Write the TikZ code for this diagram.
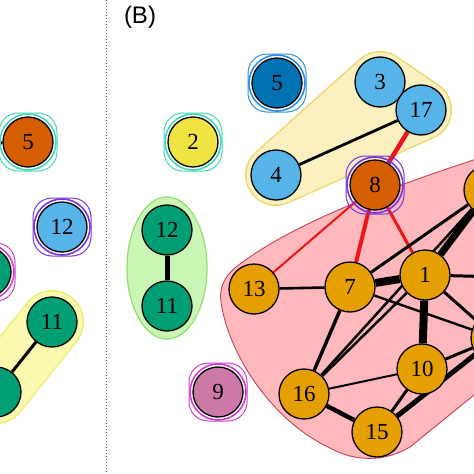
\documentclass[tikz,border=0pt]{standalone}
\usepackage{fontspec}
\setmainfont{Liberation Serif}
\newfontfamily\panelfont{Liberation Sans}
\pgfdeclarelayer{hulls}
\pgfdeclarelayer{links}
\pgfsetlayers{hulls,links,main}
\definecolor{cOr}{HTML}{E69F00}
\definecolor{cVer}{HTML}{D55E00}
\definecolor{cSky}{HTML}{56B4E9}
\definecolor{cBlue}{HTML}{0072B2}
\definecolor{cGreen}{HTML}{009E73}
\definecolor{cYel}{HTML}{F0E442}
\definecolor{cPur}{HTML}{CC79A7}
\definecolor{pinkFill}{HTML}{FFB8BC}
\definecolor{pinkLine}{HTML}{C84050}
\definecolor{yelFillB}{HTML}{FBF0C0}
\definecolor{yelLineB}{HTML}{EBD870}
\definecolor{yelFillA}{HTML}{FBF9B0}
\definecolor{yelLineA}{HTML}{EEEE70}
\definecolor{grnFill}{HTML}{CBF5B4}
\definecolor{grnLine}{HTML}{8EE070}
\definecolor{hTurq}{HTML}{45D8B5}
\definecolor{hPurp}{HTML}{7A35DC}
\definecolor{hMag}{HTML}{D040D0}
\definecolor{hBlue}{HTML}{2E8FE0}
\definecolor{redEdge}{HTML}{EE1515}
\newcommand\mkhalo[2]{%
  \draw[#2, line width=1.6pt] (#1) circle[radius=28pt];
  \draw[#2, line width=1pt, rounded corners=19pt] ([shift={(-29pt,-29pt)}]#1) rectangle ([shift={(29pt,29pt)}]#1);}
\begin{document}
\begin{tikzpicture}[x=1pt,y=-1pt,
  vtx/.style={circle, draw=black, line width=1.3pt, minimum size=50pt, inner sep=0pt, font=\fontsize{23}{23}\selectfont},
  blk/.style={draw=black, line width=#1},
  blk/.default=2.5pt,
  rd/.style={draw=redEdge, line width=#1},
  rd/.default=3pt]
\useasboundingbox (0,0) rectangle (474,474);
\clip (0,0) rectangle (474,474);

% ---------- nodes ----------
% panel A
\node[vtx, fill=cVer] (A5) at (28,142) {5};
\node[vtx, fill=cSky] (A12) at (62,227) {12};
\node[vtx, fill=cGreen] (Ag) at (-14,272) {};
\node[vtx, fill=cGreen] (A11) at (52,322) {11};
\node[vtx, fill=cGreen] (Abl) at (-4,392) {};
\coordinate (A0) at (-40,144);
% panel B
\node[vtx, fill=cYel] (B2) at (193,142) {2};
\node[vtx, fill=cBlue] (B5) at (277,83) {5};
\node[vtx, fill=cSky] (B3) at (380,82) {3};
\node[vtx, fill=cSky] (B17) at (421,110) {17};
\node[vtx, fill=cSky] (B4) at (276,175) {4};
\node[vtx, fill=cVer] (B8) at (375,185) {8};
\node[vtx, fill=cGreen] (B12) at (167,230) {12};
\node[vtx, fill=cGreen] (B11) at (167,306) {11};
\node[vtx, fill=cPur] (B9) at (218,392) {9};
\node[vtx, fill=cOr] (B13) at (254,289) {13};
\node[vtx, fill=cOr] (B7) at (350,287) {7};
\node[vtx, fill=cOr] (B1) at (425,275) {1};
\node[vtx, fill=cOr] (B10) at (422,369) {10};
\node[vtx, fill=cOr] (B16) at (304,394) {16};
\node[vtx, fill=cOr] (B15) at (377,432) {15};
\node[vtx, fill=cOr] (BR1) at (489,190) {};
\node[vtx, fill=cOr] (BR2) at (496,338) {};
\coordinate (BR3) at (540,278);

% panel label and separator
\node[font=\panelfont\fontsize{24}{24}\selectfont, inner sep=0pt] (lblB) at (140,17) {(B)};
\draw[black!60, line width=1pt, dash pattern=on 1pt off 2pt] (106,0) -- (106,474);

% ---------- hulls ----------
\begin{pgfonlayer}{hulls}
  % pink community
  \draw[fill=pinkFill, draw=pinkLine, line width=0.9pt]
    (495,153) .. controls (380,190) and (290,225) .. (236,267)
    .. controls (224,277) and (219,288) .. (221,302)
    .. controls (228,352) and (270,420) .. (330,448)
    .. controls (355,462) and (385,462) .. (410,447)
    -- (495,378) -- cycle;
  % yellow group in B
  \draw[draw=yelLineB, fill=yelLineB, line width=62pt, line join=round, line cap=round] (B3.center) -- (B17.center) -- (B4.center) -- cycle;
  \draw[draw=yelFillB, fill=yelFillB, line width=59pt, line join=round, line cap=round] (B3.center) -- (B17.center) -- (B4.center) -- cycle;
  % yellow group in A
  \draw[draw=yelLineA, line width=64pt, line cap=round] (A11.center) -- (Abl.center);
  \draw[draw=yelFillA, line width=61pt, line cap=round] (A11.center) -- (Abl.center);
  % green ellipse in B
  \draw[fill=grnFill, draw=grnLine, line width=1.2pt] (167,268) ellipse[x radius=40pt, y radius=71pt];
\end{pgfonlayer}

% ---------- edges and halos ----------
\begin{pgfonlayer}{links}
  \draw[blk=3pt] (A5) -- (A0);
  \draw[blk=3pt] (A11) -- (Abl);
  \draw[blk=2.8pt] (B4) -- (B17);
  \draw[blk=5pt] (B12) -- (B11);
  \draw[rd=4.5pt] (B17) -- (B8);
  \draw[rd=2pt] (B8) -- (B13);
  \draw[rd=4pt] (B8) -- (B7);
  \draw[rd=3pt] (B8) -- (B1);
  \draw[blk=2.6pt] (B13) -- (B7);
  \draw[blk=8pt] (B7) -- (B1);
  \draw[blk=3pt] (B7) -- (BR1);
  \draw[blk=2.4pt] (B7) -- (BR2);
  \draw[blk=3.5pt] (B7) -- (B16);
  \draw[blk=2.5pt] (B16) -- (B1);
  \draw[blk=2.5pt] (B16) -- (BR1);
  \draw[blk=7pt] (B1) -- (BR1);
  \draw[blk=8pt] (B1) -- (B10);
  \draw[blk=3pt] (B1) -- (BR2);
  \draw[blk=3pt] (B1) -- (BR3);
  \draw[blk=2pt] (B16) -- (B10);
  \draw[blk=4.5pt] (B16) -- (B15);
  \draw[blk=3pt] (B15) -- (B10);
  \draw[blk=5pt] (B15) -- (BR2);
  \draw[blk=3pt] (B10) -- (BR2);
  % halos
  \mkhalo{A5}{hTurq}
  \mkhalo{A12}{hPurp}
  \mkhalo{Ag}{hMag}
  \mkhalo{B2}{hTurq}
  \mkhalo{B5}{hBlue}
  \mkhalo{B8}{hPurp}
  \mkhalo{B9}{hMag}
\end{pgfonlayer}
\end{tikzpicture}
\end{document}
